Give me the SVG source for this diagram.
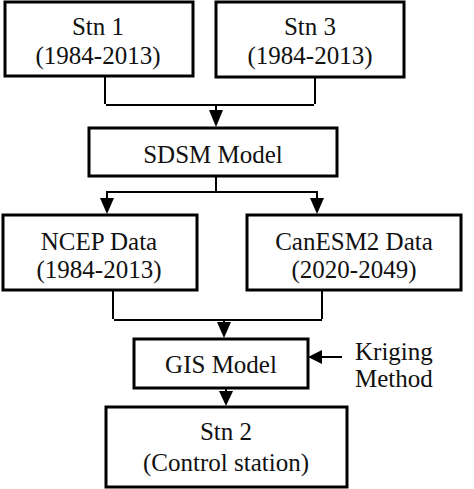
<svg xmlns="http://www.w3.org/2000/svg" width="474" height="489" viewBox="0 0 474 489">
<style>
.box{fill:#fff;stroke:#000;stroke-width:3}
.t{font-family:"Liberation Serif","Times New Roman",serif;font-size:25px;fill:#111;text-anchor:middle}
.tl{font-family:"Liberation Serif","Times New Roman",serif;font-size:25px;fill:#111}
.c{fill:none;stroke:#000;stroke-width:2}
.ah{fill:#000}
</style>
<rect width="474" height="489" fill="#fff"/>
<g id="connectors">
<path class="c" d="M105 77V104M315 77V104M106 105H314M216 105V112"/>
<polygon class="ah" points="209,110 223,110 216,127"/>
<path class="c" d="M216 176V192M107 192H317M107 191V200M317 191V200"/>
<polygon class="ah" points="100,198 114,198 107,214"/>
<polygon class="ah" points="310,198 324,198 317,214"/>
<path class="c" d="M113 290V319M322 290V319M114 320H322M224 320V324"/>
<polygon class="ah" points="217,322 231,322 224,338"/>
<path class="c" d="M226 388V392"/>
<polygon class="ah" points="219,391 233,391 226,406"/>
<path class="c" d="M342 357H320"/>
<polygon class="ah" points="322,350 322,364 308,357"/>
</g>
<g id="stn1">
<rect class="box" x="5" y="2" width="188" height="74"/>
<text class="t" x="98" y="35">Stn 1</text>
<text class="t" x="98" y="64">(1984-2013)</text>
</g>
<g id="stn3">
<rect class="box" x="216" y="2" width="188" height="75"/>
<text class="t" x="310" y="35">Stn 3</text>
<text class="t" x="310" y="64">(1984-2013)</text>
</g>
<g id="sdsm">
<rect class="box" x="89" y="128" width="248" height="48"/>
<text class="t" x="213" y="163">SDSM Model</text>
</g>
<g id="ncep">
<rect class="box" x="3" y="215" width="194" height="75"/>
<text class="t" x="99" y="250">NCEP Data</text>
<text class="t" x="99" y="278">(1984-2013)</text>
</g>
<g id="canesm2">
<rect class="box" x="247" y="215" width="214" height="75"/>
<text class="t" x="354" y="250">CanESM2 Data</text>
<text class="t" x="354" y="278">(2020-2049)</text>
</g>
<g id="gis">
<rect class="box" x="134" y="339" width="174" height="49"/>
<text class="t" x="221" y="373">GIS Model</text>
</g>
<g id="kriging">
<text class="tl" x="355" y="360">Kriging</text>
<text class="tl" x="355" y="387">Method</text>
</g>
<g id="stn2">
<rect class="box" x="106" y="407" width="241" height="80"/>
<text class="t" x="226" y="440">Stn 2</text>
<text class="t" x="226" y="471">(Control station)</text>
</g>
</svg>
